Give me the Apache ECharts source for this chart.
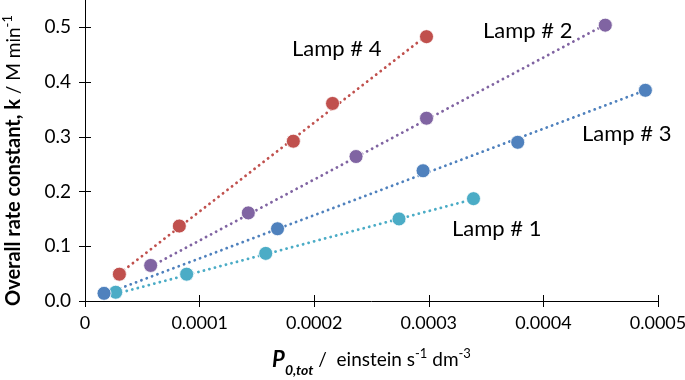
<!DOCTYPE html>
<html>
<head>
<meta charset="utf-8">
<script src="https://cdn.jsdelivr.net/npm/echarts@6/dist/echarts.min.js"></script>
<style>
  html, body { margin: 0; padding: 0; background: #fff; }
  #chart { width: 685px; height: 380px; }
</style>
</head>
<body>
<div id="chart"></div>
<script>
// measured points (x: einstein s-1 dm-3, y: M min-1)
const lamp1 = [[0.0000268, 0.016], [0.0000887, 0.049], [0.0001577, 0.087], [0.000274, 0.150], [0.000339, 0.187]];
const lamp2 = [[0.0000573, 0.065], [0.0001425, 0.161], [0.0002365, 0.264], [0.000298, 0.334], [0.000454, 0.504]];
const lamp3 = [[0.0000166, 0.014], [0.000168, 0.132], [0.000295, 0.238], [0.0003776, 0.290], [0.000489, 0.385]];
const lamp4 = [[0.00003, 0.049], [0.0000823, 0.137], [0.0001818, 0.292], [0.000216, 0.361], [0.000298, 0.483]];

// dotted trendline ends
const trend1 = [[0.0000268, 0.013], [0.000339, 0.186]];
const trend2 = [[0.0000573, 0.063], [0.000454, 0.505]];
const trend3 = [[0.0000166, 0.012], [0.000489, 0.385]];
const trend4 = [[0.00003, 0.050], [0.000298, 0.485]];

const xTicks = [0, 0.0001, 0.0002, 0.0003, 0.0004, 0.0005];
const yTicks = [0, 0.1, 0.2, 0.3, 0.4, 0.5];

const colors = { lamp1: '#4BACC6', lamp2: '#8064A2', lamp3: '#4F81BD', lamp4: '#C0504D' };

const chart = echarts.init(document.getElementById('chart'));
const font = 'Lato';

function scatter(name, data, color) {
  return {
    name: name, type: 'scatter', data: data, symbolSize: 14, z: 3,
    itemStyle: { color: color, opacity: 1, borderColor: '#fff', borderWidth: 0.8 }
  };
}
function trend(name, data, color) {
  return {
    name: name + ' trend', type: 'line', data: data, symbol: 'none', z: 2,
    lineStyle: { color: color, width: 2.8, type: [0.1, 5.6], cap: 'round' }
  };
}

const axisLine = { show: true, lineStyle: { color: '#000', width: 1 } };

chart.setOption({
  animation: false,
  grid: { left: 85, right: 27, top: 0, bottom: 79, outerBoundsMode: 'none', containLabel: false },
  xAxis: [{
    type: 'value', min: 0, max: 0.0005, interval: 0.0001,
    axisLine: axisLine, splitLine: { show: false },
    axisTick: { show: true, length: 6, lineStyle: { color: '#000' }, customValues: xTicks },
    axisLabel: {
      customValues: xTicks, margin: 13, color: '#000', fontFamily: font, fontSize: 18,
      formatter: v => v === 0 ? '0' : v.toFixed(4)
    },
    name: '{pb|P}{sub|0,tot}{r| /  einstein s}{sup|-1}{r| dm}{sup|-3}',
    nameLocation: 'middle', nameGap: 46,
    nameTextStyle: {
      rich: {
        pb: { fontFamily: font, fontSize: 22, fontWeight: 'bold', fontStyle: 'italic', color: '#000', lineHeight: 26 },
        sub: { fontFamily: font, fontSize: 14, fontWeight: 'bold', fontStyle: 'italic', color: '#000', verticalAlign: 'bottom', padding: [0, 0, -4, 0] },
        r: { fontFamily: font, fontSize: 19, color: '#000' },
        sup: { fontFamily: font, fontSize: 13, color: '#000', verticalAlign: 'top' }
      }
    }
  }, {
    type: 'value', min: 0, max: 0.0005, position: 'bottom',
    axisLine: { show: false }, splitLine: { show: false }, axisLabel: { show: false },
    axisTick: { show: true, inside: true, length: 6, lineStyle: { color: '#000' }, customValues: xTicks }
  }],
  yAxis: [{
    type: 'value', min: 0, max: 0.55, interval: 0.1,
    axisLine: axisLine, splitLine: { show: false },
    axisTick: { show: true, length: 6, lineStyle: { color: '#000' }, customValues: yTicks },
    axisLabel: {
      customValues: yTicks, margin: 14, color: '#000', fontFamily: font, fontSize: 19,
      formatter: v => v.toFixed(1)
    },
    name: '{b|Overall rate constant, k}{r| / M min}{sup|-1}',
    nameLocation: 'middle', nameRotate: 90, nameGap: 58,
    nameTextStyle: {
      padding: [0, 20, 0, 0],
      rich: {
        b: { fontFamily: font, fontSize: 20, fontWeight: 'bold', color: '#000', lineHeight: 26 },
        r: { fontFamily: font, fontSize: 19, color: '#000' },
        sup: { fontFamily: font, fontSize: 13, color: '#000', verticalAlign: 'top' }
      }
    }
  }, {
    type: 'value', min: 0, max: 0.55, position: 'left',
    axisLine: { show: false }, splitLine: { show: false }, axisLabel: { show: false },
    axisTick: { show: true, inside: true, length: 6, lineStyle: { color: '#000' }, customValues: yTicks }
  }],
  series: [
    trend('Lamp # 1', trend1, colors.lamp1),
    trend('Lamp # 2', trend2, colors.lamp2),
    trend('Lamp # 3', trend3, colors.lamp3),
    trend('Lamp # 4', trend4, colors.lamp4),
    scatter('Lamp # 1', lamp1, colors.lamp1),
    scatter('Lamp # 2', lamp2, colors.lamp2),
    scatter('Lamp # 3', lamp3, colors.lamp3),
    scatter('Lamp # 4', lamp4, colors.lamp4)
  ],
  graphic: [
    { type: 'text', x: 292, y: 49, style: { text: 'Lamp # 4', font: '22px Lato', fill: '#000', verticalAlign: 'middle' } },
    { type: 'text', x: 483, y: 31, style: { text: 'Lamp # 2', font: '22px Lato', fill: '#000', verticalAlign: 'middle' } },
    { type: 'text', x: 582, y: 134, style: { text: 'Lamp # 3', font: '22px Lato', fill: '#000', verticalAlign: 'middle' } },
    { type: 'text', x: 452, y: 229, style: { text: 'Lamp # 1', font: '22px Lato', fill: '#000', verticalAlign: 'middle' } }
  ]
});
</script>
</body>
</html>
